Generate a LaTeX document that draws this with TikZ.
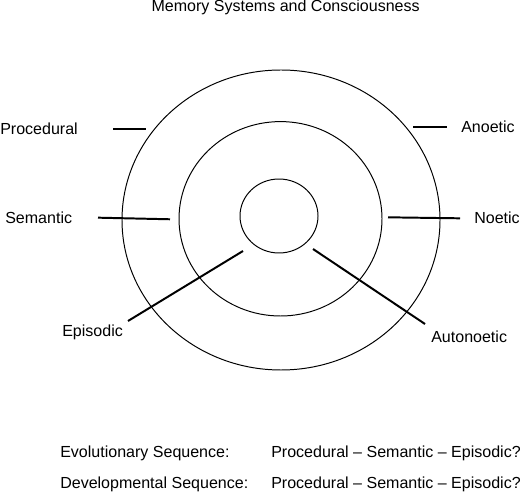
\documentclass[tikz,border=0pt]{standalone}
\usepackage{fontspec}
\setmainfont{Liberation Sans}
\usetikzlibrary{positioning}

\begin{document}
\begin{tikzpicture}[scale=1.0,
    rotulo/.style={inner sep=0pt, anchor=base west, font=\fontsize{11.4}{13.7}\selectfont},
    anel/.style={line width=0.7pt},
    haste/.style={line width=1.4pt}]
    % Moldura da figura
    \useasboundingbox (0,0) rectangle (13,12.3);
    % Titulo
    \node[rotulo, anchor=base] (titulo) at (7.14,12.0) {Memory Systems and Consciousness};
    % Aneis (sistemas de memoria)
    \draw[anel] (7.025,6.8) ellipse (3.975 and 3.75);
    \draw[anel] (7.0125,6.83) ellipse (2.5375 and 2.43);
    \draw[anel] (6.975,6.9) ellipse (0.975 and 0.925);
    % Rotulos laterais
    \node[rotulo] (proc) at (0,8.925) {Procedural};
    \node[rotulo] (sem) at (0.125,6.7) {Semantic};
    \node[rotulo] (epi) at (1.55,3.875) {Episodic};
    \node[rotulo] (ano) at (11.525,8.98) {Anoetic};
    \node[rotulo] (noe) at (11.85,6.7) {Noetic};
    \node[rotulo] (auto) at (10.775,3.73) {Autonoetic};
    % Hastes indicadoras
    \foreach \nome/\ax/\ay/\bx/\by in {proc/2.825/9.075/3.65/9.075, sem/2.45/6.858/4.25/6.818,
        ano/10.325/9.125/11.175/9.125, noe/9.7/6.867/11.5/6.842,
        epi/3.2/4.275/6.075/6.025, auto/7.825/6.075/10.625/4.2} {
      \coordinate (\nome-a) at (\ax,\ay);
      \coordinate (\nome-b) at (\bx,\by);
      \draw[haste] (\nome-a) -- (\nome-b);
    }
    % Sequencias
    \node[rotulo] (evol) at (1.5,0.875) {Evolutionary Sequence:};
    \node[rotulo] (evolseq) at (6.775,0.875) {Procedural – Semantic – Episodic?};
    \node[rotulo] (desen) at (1.5,0.1) {Developmental Sequence:};
    \node[rotulo] (desenseq) at (6.775,0.1) {Procedural – Semantic – Episodic?};
  \end{tikzpicture}
\end{document}
